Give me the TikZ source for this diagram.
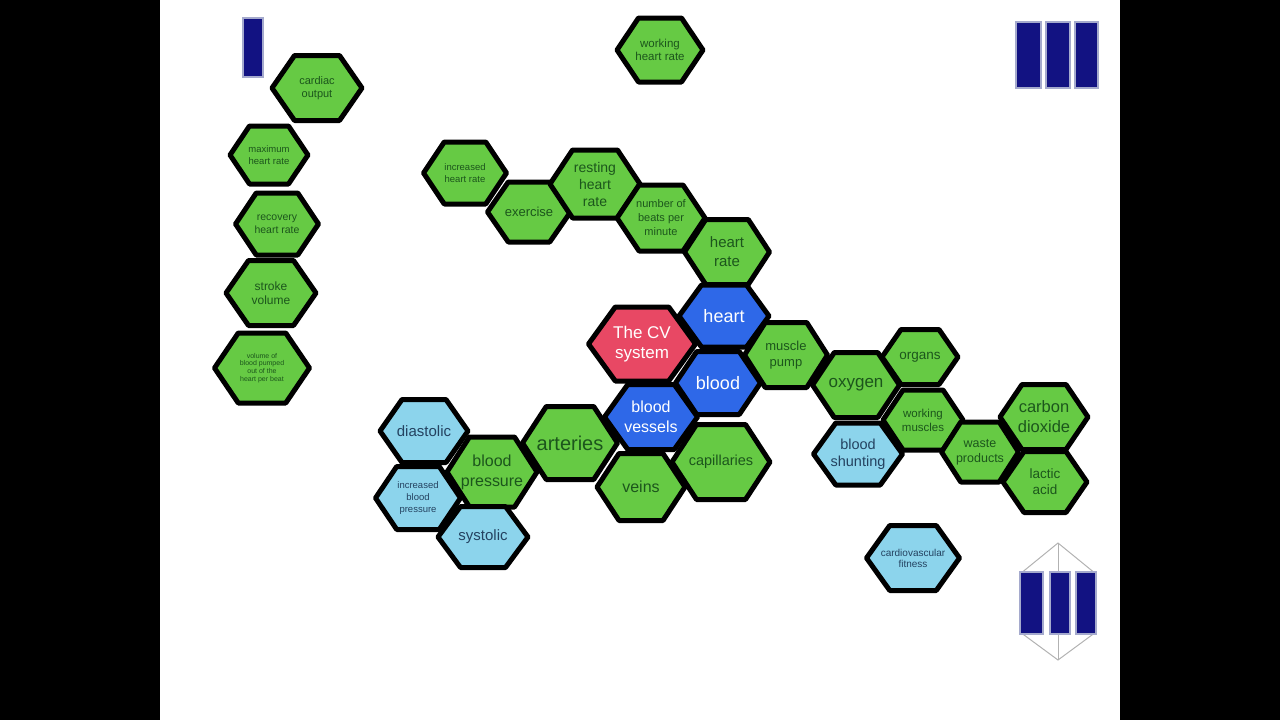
\documentclass[tikz,border=0pt]{standalone}
\usepackage{fontspec}
\setmainfont{Liberation Sans}
\definecolor{cellgreen}{RGB}{102,202,68}
\definecolor{textgreen}{RGB}{28,86,28}
\definecolor{cellblue}{RGB}{46,104,232}
\definecolor{cellred}{RGB}{232,72,100}
\definecolor{cellpale}{RGB}{140,212,236}
\definecolor{textpale}{RGB}{36,66,96}
\definecolor{barnavy}{RGB}{18,18,130}
\definecolor{barrim}{RGB}{165,170,205}
\tikzset{
  hexline/.style={draw=black, line width=5pt, line join=round},
  celltext/.style={align=center, inner sep=0pt},
  bar/.style={fill=barnavy, draw=barrim, line width=1.5pt},
  frameline/.style={draw=gray!60, line width=1pt}
}

\begin{document}
\begin{tikzpicture}[x=1pt,y=-1pt]
    \useasboundingbox (0,0) rectangle (1280,720);
    \fill[black] (0,0) rectangle (160,720);
    \fill[black] (1120,0) rectangle (1280,720);
    % cells: name/x/y/width/height/fill/text colour/font size/line skip/text
    \foreach \nm/\x/\y/\w/\h/\fc/\tc/\fs/\ls/\txt in {
        cardiac/317/88/90/65/cellgreen/textgreen/11/13/{cardiac\\output},
        maxrate/269/155/78/58/cellgreen/textgreen/9.5/11.5/{maximum\\heart rate},
        recovery/277/224/83/62/cellgreen/textgreen/10.5/12.5/{recovery\\heart rate},
        stroke/271/293/90/65/cellgreen/textgreen/12/14/{stroke\\volume},
        volume/262/368/95/70/cellgreen/textgreen/7/7.8/{volume of\\blood pumped\\out of the\\heart per beat},
        working/660/50/86/64/cellgreen/textgreen/11.5/13.5/{working\\heart rate},
        increased/465/173/83/62/cellgreen/textgreen/9.5/11.5/{increased\\heart rate},
        exercise/529/212/83/60/cellgreen/textgreen/13/15/{exercise},
        resting/595/184/90/68/cellgreen/textgreen/14/17/{resting\\heart\\rate},
        beats/661/218/88/66/cellgreen/textgreen/11/14/{number of\\beats per\\minute},
        hrate/727/252/85/65/cellgreen/textgreen/15/19/{heart\\rate},
        cv/642/344/107/74/cellred/white/17/20/{The CV\\system},
        heart/724/316/90/62/cellblue/white/18/20/{heart},
        blood/718/383/85/63/cellblue/white/18/20/{blood},
        pump/786/355/83/65/cellgreen/textgreen/13/16/{muscle\\pump},
        vessels/651/417/93/65/cellblue/white/16/20/{blood\\vessels},
        arteries/570/443/95/73/cellgreen/textgreen/20/22/{arteries},
        capillaries/721/462/98/75/cellgreen/textgreen/14.5/16/{capillaries},
        veins/641/487/88/67/cellgreen/textgreen/16/18/{veins},
        pressure/492/472/90/70/cellgreen/textgreen/16/20/{blood\\pressure},
        diastolic/424/431/88/63/cellpale/textpale/15/17/{diastolic},
        incpressure/418/498/85/63/cellpale/textpale/9.5/12/{increased\\blood\\pressure},
        systolic/483/537/90/61/cellpale/textpale/15/17/{systolic},
        oxygen/856/385/87/65/cellgreen/textgreen/17/19/{oxygen},
        organs/920/357/76/55/cellgreen/textgreen/13.5/15/{organs},
        shunting/858/454/89/62/cellpale/textpale/14.5/17/{blood\\shunting},
        muscles/923/420/80/60/cellgreen/textgreen/11.5/14/{working\\muscles},
        waste/980/452/77/60/cellgreen/textgreen/12.5/15/{waste\\products},
        carbon/1044/417/88/65/cellgreen/textgreen/16.5/20/{carbon\\dioxide},
        lactic/1045/482/84/61/cellgreen/textgreen/13.5/16/{lactic\\acid},
        fitness/913/558/93/65/cellpale/textpale/10/11/{cardiovascular\\fitness}}
    {
        \draw[hexline, fill=\fc] (\x-\w/2,\y) -- (\x-\w/4,\y-\h/2) -- (\x+\w/4,\y-\h/2)
            -- (\x+\w/2,\y) -- (\x+\w/4,\y+\h/2) -- (\x-\w/4,\y+\h/2) -- cycle;
        \node[celltext, text=\tc, font=\fontsize{\fs}{\ls}\selectfont] (\nm) at (\x,\y) {\txt};
    }
    % bar icons
    \draw[bar] (243,18) rectangle (263,77);
    \foreach \xa/\xb in {1016/1041, 1046/1070, 1075/1098}
        \draw[bar] (\xa,22) rectangle (\xb,88);
    \coordinate (top) at (1058,543);
    \coordinate (bottom) at (1058,660);
    \draw[frameline] (top) -- (1020,574) -- (1020,632) -- (bottom) -- (1096,632) -- (1096,574) -- cycle;
    \draw[frameline] (top) -- (bottom);
    \foreach \xa/\xb in {1020/1043, 1050/1070, 1076/1096}
        \draw[bar] (\xa,572) rectangle (\xb,634);
\end{tikzpicture}
\end{document}
